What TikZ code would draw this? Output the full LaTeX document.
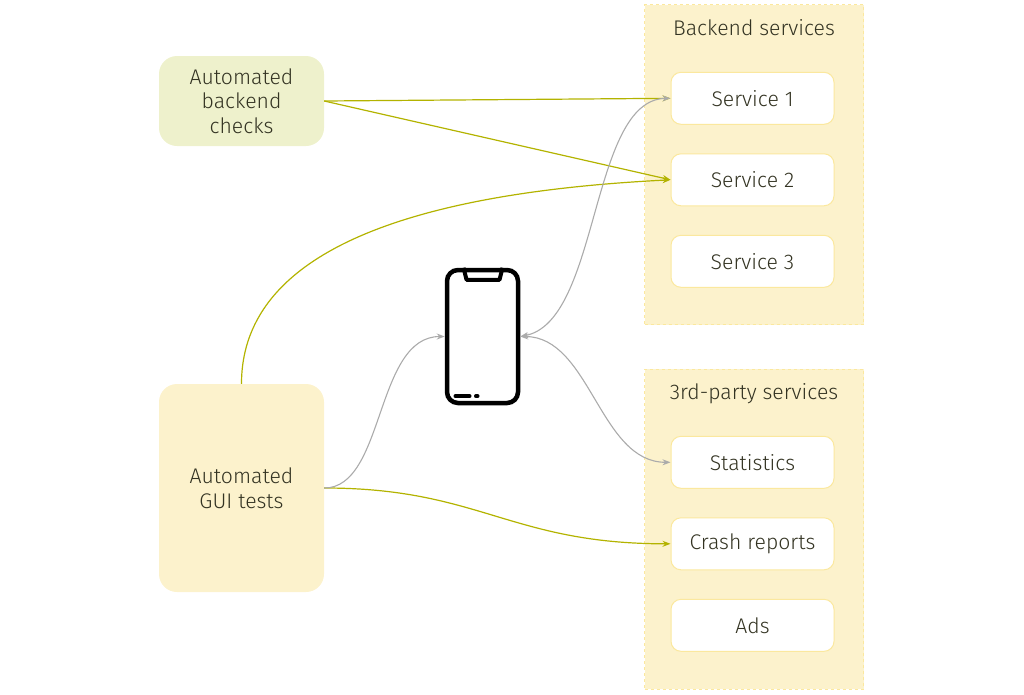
\documentclass[tikz,border=0pt]{standalone}
\usepackage{fontspec}
\setmainfont{Fira Sans Light}
\usetikzlibrary{positioning, arrows.meta}
\definecolor{boxyellow}{HTML}{FCF2CC}
\definecolor{edgeyellow}{HTML}{FBE89E}
\definecolor{boxgreen}{HTML}{EEF1CC}
\definecolor{linkolive}{HTML}{B3B300}
\definecolor{linkgrey}{HTML}{ABABAB}
\definecolor{inktext}{HTML}{333322}

\begin{document}
\begin{tikzpicture}[
    x=1pt, y=-1pt,
    every node/.style={font=\fontsize{21.2}{25}\selectfont, text=inktext},
    groupbox/.style={draw=edgeyellow, dashed, fill=boxyellow, minimum width=219pt, minimum height=320pt, inner sep=0pt},
    servicebox/.style={draw=edgeyellow, line width=1pt, fill=white, rounded corners=10pt, minimum width=163pt, minimum height=52pt, inner sep=0pt},
    testbox/.style={rounded corners=18pt, minimum width=165pt, inner sep=0pt, align=center},
    oliveline/.style={-{Stealth[length=8pt,width=6pt]}, draw=linkolive, line width=1.2pt},
    greyline/.style={{Stealth[length=8pt,width=6pt]}-{Stealth[length=8pt,width=6pt]}, draw=linkgrey, line width=1.1pt},
    greyarrow/.style={-{Stealth[length=8pt,width=6pt]}, draw=linkgrey, line width=1.1pt},
    node distance=28.5pt
]
\useasboundingbox (0,0) rectangle (1024,694);

% Service groups
\node[groupbox] (backend) at (754,164.5) {};
\node[below=12pt of backend.north] (backendlabel) {Backend services};
\node[servicebox, below=67.5pt of backend.north, xshift=-1.5pt] (service1) {Service 1};
\node[servicebox, below=of service1] (service2) {Service 2};
\node[servicebox, below=of service2] (service3) {Service 3};

\node[groupbox] (thirdparty) at (754,529) {};
\node[below=11.5pt of thirdparty.north] (thirdpartylabel) {3rd-party services};
\node[servicebox, below=67pt of thirdparty.north, xshift=-1.5pt] (statistics) {Statistics};
\node[servicebox, below=of statistics] (crash) {Crash reports};
\node[servicebox, below=of crash] (ads) {Ads};

% Tests
\node[testbox, fill=boxgreen, minimum height=90pt] (checks) at (241.5,101) {\raisebox{-0.7pt}{Automated}\\backend\\checks};
\node[testbox, fill=boxyellow, minimum height=208pt] (guitests) at (241.5,488) {Automated\\GUI tests};

% Phone
\node[draw=black, line width=4.5pt, rounded corners=11pt, minimum width=71pt, minimum height=133pt, inner sep=0pt] (phone) at (482.5,336.5) {};
\draw[line width=4pt, line join=round] ([xshift=-19pt]phone.north) -- ++(3,12) -- ++(33,0) -- ++(3,-12);
\draw[line width=4pt, line cap=round] ([shift={(-27pt,9pt)}]phone.south) -- ++(14,0);
\draw[line width=4pt, line cap=round] ([shift={(-6.5pt,9pt)}]phone.south) -- ++(1.5,0);

% Links
\draw[oliveline] (checks.east) -- (service1.west);
\draw[oliveline] (checks.east) -- (service2.west);
\draw[oliveline] (guitests.north) .. controls +(0,-140) and +(-240,12) .. (service2.west);
\draw[oliveline] (guitests.east) .. controls +(156,0) and +(-161,0) .. (crash.west);
\draw[greyarrow] (guitests.east) .. controls +(61,0) and +(-70,0) .. (phone.west);
\draw[greyline] (phone.east) .. controls +(80,-15) and +(-81,1) .. (service1.west);
\draw[greyline] (phone.east) .. controls +(70,0) and +(-71,0) .. (statistics.west);

\end{tikzpicture}
\end{document}
